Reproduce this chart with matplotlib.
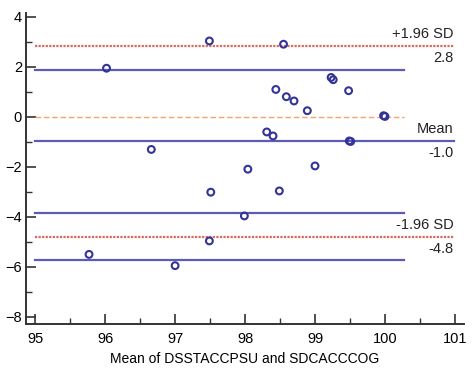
import matplotlib.pyplot as plt

# Bland-Altman data
mean_vals = [96.02, 97.49, 96.66, 98.55, 99.23, 99.26, 98.44, 98.59, 98.70, 98.89,
             99.48, 99.98, 100.0, 98.31, 98.40, 99.49, 99.51, 98.04, 99.0, 98.49,
             97.51, 97.49, 95.77, 97.0, 97.99]
diff_vals = [1.95, 3.04, -1.30, 2.91, 1.58, 1.49, 1.10, 0.81, 0.64, 0.25,
             1.05, 0.05, 0.02, -0.60, -0.76, -0.96, -0.98, -2.09, -1.96, -2.96,
             -3.01, -4.96, -5.50, -5.95, -3.96]

mean_diff = -0.96
upper_loa = 2.85
lower_loa = -4.79
blue_lines = [1.88, -3.83, -5.73]

x_ticks = [95, 96, 97, 98, 99, 100, 101]
y_ticks = [4, 2, 0, -2, -4, -6, -8]

FONT = 'Liberation Sans'
BLUE = '#5c5cb8'
RED = '#d66a5f'
ORANGE = '#f4a46a'
DOT = '#333399'


def plot_data():
    fig = plt.figure(figsize=(4.74, 3.71), dpi=100)
    ax = fig.add_axes([0.055, 0.127, 0.924, 0.838])
    ax.set_xlim(94.87, 101.13)
    ax.set_ylim(-8.28, 4.16)

    x0, x1, x2 = 95.0, 100.27, 100.98
    for y in blue_lines:
        ax.plot([x0, x1], [y, y], color=BLUE, lw=1.6, zorder=2)
    ax.plot([x0, x2], [mean_diff, mean_diff], color=BLUE, lw=1.6, zorder=2)
    ax.plot([x0, x1], [0, 0], color=ORANGE, lw=1.0, ls=(0, (4, 2)), zorder=2)
    for y in (upper_loa, lower_loa):
        ax.plot([x0, x2], [y, y], color=RED, lw=1.6, ls=(0, (1, 0.6)), zorder=2)

    ax.scatter(mean_vals, diff_vals, s=24, facecolors='none', edgecolors=DOT,
               linewidths=1.5, zorder=3)

    kw = dict(ha='right', fontsize=10.5, family=FONT, color='#222222')
    ax.text(x2, upper_loa + 0.2, '+1.96 SD', va='bottom', **kw)
    ax.text(x2, upper_loa - 0.2, f'{2.8:.1f}', va='top', **kw)
    ax.text(x2, mean_diff + 0.2, 'Mean', va='bottom', **kw)
    ax.text(x2, mean_diff - 0.2, f'{-1.0:.1f}', va='top', **kw)
    ax.text(x2, lower_loa + 0.2, '-1.96 SD', va='bottom', **kw)
    ax.text(x2, lower_loa - 0.2, f'{-4.8:.1f}', va='top', **kw)

    for s in ('top', 'right'):
        ax.spines[s].set_visible(False)
    for s in ('left', 'bottom'):
        ax.spines[s].set_linewidth(1.4)
        ax.spines[s].set_color('#333333')

    ax.set_xticks(x_ticks)
    ax.set_yticks(y_ticks)
    ax.set_xticks([95.5, 96.5, 97.5, 98.5, 99.5, 100.5], minor=True)
    ax.set_yticks([3, 1, -1, -3, -5, -7], minor=True)
    ax.tick_params(which='major', direction='in', length=7, width=1.2,
                   color='#333333', labelsize=10.5, pad=3)
    ax.tick_params(axis='x', which='major', pad=6)
    ax.tick_params(which='minor', direction='in', length=4, width=1.0,
                   color='#333333')
    for lab in ax.get_xticklabels() + ax.get_yticklabels():
        lab.set_family(FONT)
    ax.set_xlabel('Mean of DSSTACCPSU and SDCACCCOG', family=FONT,
                  fontsize=10, labelpad=4)

    fig.savefig('out.png', dpi=100)


if __name__ == "__main__":
    plot_data()
